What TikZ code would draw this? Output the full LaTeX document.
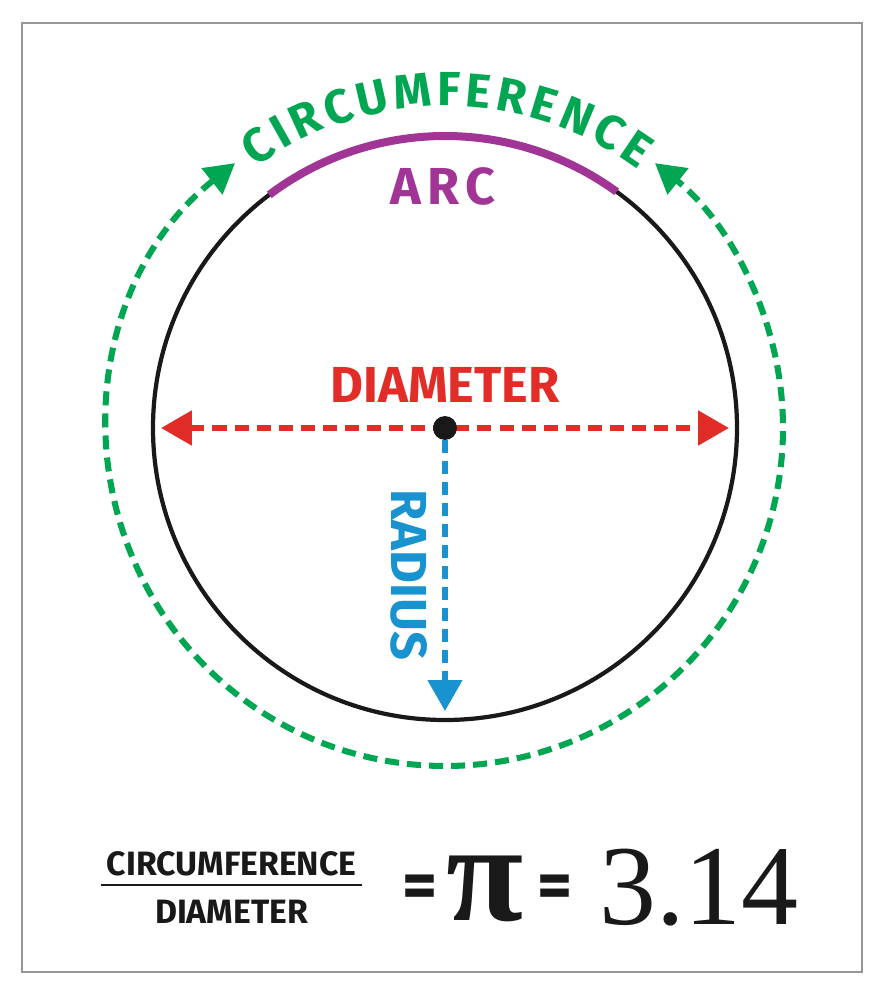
\documentclass[tikz,border=0pt]{standalone}
\usepackage{fontspec}
\usepackage{tikz}
\usetikzlibrary{arrows.meta, decorations.text}
\usepackage{xcolor}
\newfontfamily\labelfont{Fira Sans}
\newfontfamily\numfont{Liberation Serif}
\newcommand\curvestyle{\labelfont\bfseries\fontsize{34}{38}\selectfont\kern3.2pt}
\definecolor{circgreen}{RGB}{0,166,81}
\definecolor{diared}{RGB}{226,44,40}
\definecolor{radblue}{RGB}{25,146,208}
\definecolor{arcpurple}{RGB}{160,53,150}
\definecolor{framegray}{RGB}{150,150,150}
\definecolor{inkblack}{RGB}{25,25,25}

\begin{document}
\begin{tikzpicture}[x=0.025cm, y=0.025cm,
    tag/.style={font=\labelfont\bfseries\fontsize{36}{40}\selectfont, inner sep=0pt, anchor=base},
    smalltag/.style={font=\labelfont\bfseries\fontsize{24}{26}\selectfont, inner sep=0pt, anchor=base},
    serifnum/.style={font=\numfont\fontsize{81}{81}\selectfont, inner sep=0pt, anchor=base},
    dashline/.style={line width=4.3pt, dash pattern=on 10pt off 5.7pt},
    bigtip/.tip={Triangle[length=22pt, width=24pt]},
    greentip/.tip={Triangle[length=21pt, width=23pt]}]
    % Cercle : circonference, arc, diametre et rayon
    \useasboundingbox (-445,-572) rectangle (444,428);
    \draw[framegray, line width=1.2pt] (-423,-544) rectangle (417,405);
    \coordinate (cleft) at (128.4:338);
    \coordinate (dleft) at (-284,0);
    \coordinate (dright) at (284,0);
    \coordinate (rtip) at (0,-283);
    \draw[circgreen, dashline, greentip-greentip]
        (cleft) arc[start angle=128.4, end angle=411.6, radius=338];
    \path[decorate, decoration={text along path, text={|\curvestyle|CIRCUMFERENCE},
        text align=center, text color=circgreen}]
        (150:322) arc[start angle=150, end angle=30, radius=322];
    \draw[inkblack, line width=3pt] (0,0) circle[radius=292];
    \draw[arcpurple, line width=5.7pt] (54:292) arc[start angle=54, end angle=127, radius=292];
    \node[tag, text=arcpurple, font=\labelfont\bfseries\fontsize{37}{40}\selectfont\addfontfeature{LetterSpace=12}] (arclabel) at (-2,223) {ARC};
    \node[tag, text=diared] (dialabel) at (0,26) {DIAMETER};
    \draw[diared, dashline, bigtip-bigtip] (dleft) -- (dright);
    \node[circle, fill=inkblack, minimum size=17pt, inner sep=0pt] (centre) at (0,0) {};
    \draw[radblue, line width=3.6pt, dash pattern=on 9.2pt off 5.7pt, -bigtip] (centre) -- (rtip);
    \node[tag, text=radblue, rotate=-90] (radlabel) at (-53,-147) {RADIUS};
    % Formule
    \node[smalltag, text=inkblack] (fracnum) at (-213.5,-447) {CIRCUMFERENCE};
    \draw[inkblack, line width=1.8pt] (-344,-457) -- (-83,-457);
    \node[smalltag, text=inkblack] (fracden) at (-213.5,-495) {DIAMETER};
    \node[tag, text=inkblack, font=\labelfont\bfseries\fontsize{48}{50}\selectfont] (eqone) at (-25,-480) {=};
    \node[serifnum, text=inkblack, font=\numfont\bfseries\fontsize{100}{100}\selectfont] (pinode) at (40,-492) {π};
    \node[tag, text=inkblack, font=\labelfont\bfseries\fontsize{48}{50}\selectfont] (eqtwo) at (110,-480) {=};
    \node[serifnum, text=inkblack] (value) at (254,-496) {3.14};
\end{tikzpicture}
\end{document}
